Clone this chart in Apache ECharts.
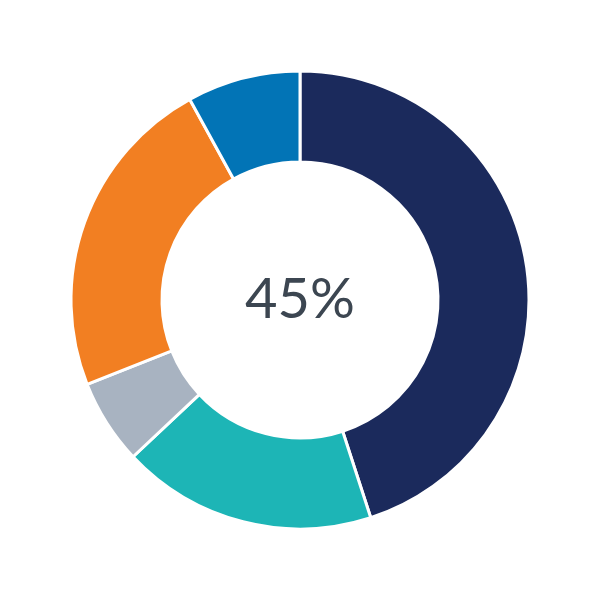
<!DOCTYPE html>
<html><head><meta charset="utf-8">
<script src="https://cdn.jsdelivr.net/npm/echarts@6/dist/echarts.min.js"></script>
<style>html,body{margin:0;padding:0;background:#fff}#c{width:600px;height:600px}</style>
</head><body><div id="c"></div>
<script>
const categories = ['A','B','C','D','E'];
const values = [45, 18, 6, 23, 8];
const colors = ['#1b2a5c','#1db5b6','#a8b3c1','#f27f22','#0274b6'];
const centerLabel = '45%';
const chart = echarts.init(document.getElementById('c'));
chart.setOption({
  animation:false,
  series:[{
    type:'pie',
    center:[300,300],
    radius:[138,229],
    startAngle:90,
    clockwise:true,
    label:{show:false},
    labelLine:{show:false},
    itemStyle:{borderColor:'#fff',borderWidth:3},
    emphasis:{disabled:true},
    data: categories.map((c,i)=>({name:c,value:values[i],itemStyle:{color:colors[i]}}))
  }],
  graphic:[{
    type:'text',
    left:'center',
    top:'center',
    style:{text:centerLabel,font:'56px Lato',fill:'#3c4651'}
  }]
});
</script></body></html>
